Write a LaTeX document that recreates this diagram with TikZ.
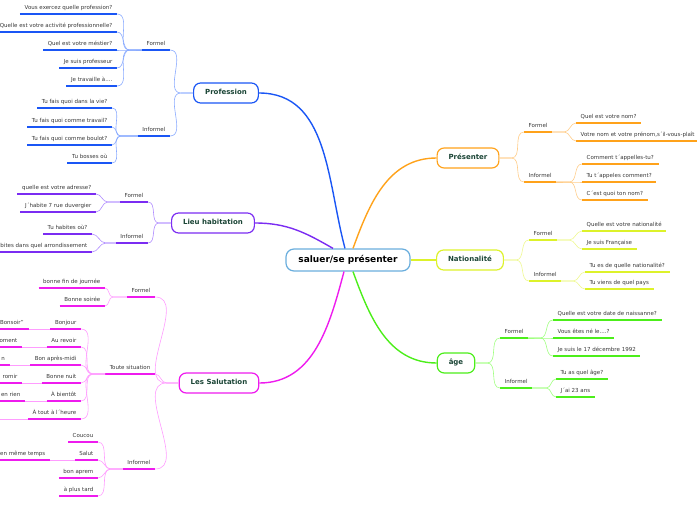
\documentclass[tikz,border=0pt]{standalone}
\usepackage{fontspec}
\setmainfont{DejaVu Sans}
\definecolor{profD}{HTML}{1A56F5}
\definecolor{profL}{HTML}{8AABFF}
\definecolor{lieuD}{HTML}{7B2CF2}
\definecolor{lieuL}{HTML}{B08CFF}
\definecolor{saluD}{HTML}{EE1BEE}
\definecolor{saluL}{HTML}{FF9CFF}
\definecolor{presD}{HTML}{FFA21A}
\definecolor{presL}{HTML}{FFCC88}
\definecolor{natD}{HTML}{DDF22A}
\definecolor{natL}{HTML}{EEF890}
\definecolor{ageD}{HTML}{4CEE1A}
\definecolor{ageL}{HTML}{A0FF80}
\definecolor{ctrB}{HTML}{6AAEDD}
\definecolor{topictxt}{HTML}{1B4536}
\definecolor{leaftxt}{HTML}{383838}

\begin{document}
\begin{tikzpicture}[x=1pt, y=1pt,
  every node/.style={font=\fontsize{5.5}{6.5}\selectfont, text=leaftxt},
  topic/.style={draw=#1, line width=1.2pt, rounded corners=7pt, fill=white,
    minimum height=20pt, inner xsep=11.5pt, text height=5.2pt, text depth=1.5pt,
    font=\bfseries\fontsize{7}{8}\selectfont, text=topictxt},
  leaf/.style={inner xsep=4.5pt, inner ysep=2.7pt, text height=4.2pt, text depth=1.3pt,
    append after command={(\tikzlastnode.south west) edge[draw=#1, line width=1.1pt] (\tikzlastnode.south east)}},
  twig/.style={draw=#1, line width=0.6pt},
  trunk/.style={draw=#1, line width=1.4pt}]
  \useasboundingbox (0,0) rectangle (697,-520);
  \clip (0,0) rectangle (697,-520);
  % Centre
  \node[draw=ctrB, line width=1.2pt, rounded corners=8pt, fill=white, minimum height=22pt,
    inner xsep=12.5pt, font=\bfseries\fontsize{9}{10}\selectfont, text=black] (root) at (348,-260) {saluer/se présenter};
  % Profession
  \node[topic=profD] (prof) at (226,-93) {Profession};
  \node[leaf=profD, anchor=south east] (pf) at (170,-50) {Formel};
  \node[leaf=profD, anchor=south east] (pi) at (170,-136) {Informel};
  \node[leaf=profD, anchor=south east] (pf1) at (117,-14) {Vous exercez quelle profession?};
  \node[leaf=profD, anchor=south east] (pf2) at (117,-32) {Quelle est votre activité professionnelle?};
  \node[leaf=profD, anchor=south east] (pf3) at (117,-50) {Quel est votre méstier?};
  \node[leaf=profD, anchor=south east] (pf4) at (117,-68) {Je suis professeur};
  \node[leaf=profD, anchor=south east] (pf5) at (117,-86) {Je travaille à....};
  \node[leaf=profD, anchor=south east] (pi1) at (112,-108) {Tu fais quoi dans la vie?};
  \node[leaf=profD, anchor=south east] (pi2) at (112,-127) {Tu fais quoi comme travail?};
  \node[leaf=profD, anchor=south east] (pi3) at (112,-145) {Tu fais quoi comme boulot?};
  \node[leaf=profD, anchor=south east] (pi4) at (112,-163) {Tu bosses où};
  \foreach \n in {pf,pi} \draw[twig=profL] (\n.south east) to[out=0,in=180] ([xshift=-12pt]prof.west) -- (prof.west);
  \foreach \n in {pf1,pf2,pf3,pf4,pf5} \draw[twig=profL] (\n.south east) to[out=0,in=180] ([xshift=-12pt]pf.south west) -- (pf.south west);
  \foreach \n in {pi1,pi2,pi3,pi4} \draw[twig=profL] (\n.south east) to[out=0,in=180] ([xshift=-17pt]pi.south west) -- (pi.south west);
  % Lieu habitation
  \node[topic=lieuD] (lieu) at (213,-223) {Lieu habitation};
  \node[leaf=lieuD, anchor=south east] (lf) at (148,-202) {Formel};
  \node[leaf=lieuD, anchor=south east] (li) at (148,-243) {Informel};
  \node[leaf=lieuD, anchor=south east] (lf1) at (96,-194) {quelle est votre adresse?};
  \node[leaf=lieuD, anchor=south east] (lf2) at (96,-212) {J´habite 7 rue duvergier};
  \node[leaf=lieuD, anchor=south east] (li1) at (92,-234) {Tu habites où?};
  \node[leaf=lieuD, anchor=south east] (li2) at (92,-252) {bites dans quel arrondissement};
  \foreach \n in {lf,li} \draw[twig=lieuL] (\n.south east) to[out=0,in=180] ([xshift=-12pt]lieu.west) -- (lieu.west);
  \foreach \n in {lf1,lf2} \draw[twig=lieuL] (\n.south east) to[out=0,in=180] ([xshift=-12pt]lf.south west) -- (lf.south west);
  \foreach \n in {li1,li2} \draw[twig=lieuL] (\n.south east) to[out=0,in=180] ([xshift=-10pt]li.south west) -- (li.south west);
  % Les Salutation
  \node[topic=saluD] (salu) at (219,-383) {Les Salutation};
  \node[leaf=saluD, anchor=south east] (sf) at (155,-297) {Formel};
  \node[leaf=saluD, anchor=south east] (st) at (155,-374) {Toute situation};
  \node[leaf=saluD, anchor=south east] (si) at (155,-469) {Informel};
  \node[leaf=saluD, anchor=south east] (sf1) at (105,-288) {bonne fin de journée};
  \node[leaf=saluD, anchor=south east] (sf2) at (105,-306) {Bonne soirée};
  \node[leaf=saluD, anchor=south east] (st1) at (81,-329) {Bonjour};
  \node[leaf=saluD, anchor=south east] (st2) at (81,-347) {Au revoir};
  \node[leaf=saluD, anchor=south east] (st3) at (81,-365) {Bon après-midi};
  \node[leaf=saluD, anchor=south east] (st4) at (81,-383) {Bonne nuit};
  \node[leaf=saluD, anchor=south east] (st5) at (81,-401) {À bientôt};
  \node[leaf=saluD, anchor=south east] (st6) at (81,-419) {À tout à l´heure};
  \node[leaf=saluD, anchor=south east] (sg1) at (28.5,-329) {Bonsoir"};
  \node[leaf=saluD, anchor=south east] (sg2) at (22,-347) {oment};
  \node[leaf=saluD, anchor=south east] (sg3) at (9.5,-365) {n};
  \node[leaf=saluD, anchor=south east] (sg4) at (22,-383) {romir};
  \node[leaf=saluD, anchor=south east] (sg5) at (25,-401) {en rien};
  \coordinate (sg6) at (0,-419);
  \node[leaf=saluD, anchor=south east] (si1) at (98,-442) {Coucou};
  \node[leaf=saluD, anchor=south east] (si2) at (98,-460) {Salut};
  \node[leaf=saluD, anchor=south east] (si3) at (98,-478) {bon aprem};
  \node[leaf=saluD, anchor=south east] (si4) at (98,-496) {à plus tard};
  \node[leaf=saluD, anchor=south east] (sig) at (50,-460) {en même temps};
  \foreach \n in {sf,st,si} \draw[twig=saluL] (\n.south east) to[out=0,in=180] ([xshift=-12pt]salu.west) -- (salu.west);
  \foreach \n in {sf1,sf2} \draw[twig=saluL] (\n.south east) to[out=0,in=180] ([xshift=-14pt]sf.south west) -- (sf.south west);
  \foreach \n in {st1,st2,st3,st4,st5,st6} \draw[twig=saluL] (\n.south east) to[out=0,in=180] ([xshift=-12pt]st.south west) -- (st.south west);
  \foreach \n in {si1,si2,si3,si4} \draw[twig=saluL] (\n.south east) to[out=0,in=180] ([xshift=-12pt]si.south west) -- (si.south west);
  \foreach \a/\b in {sg1/st1,sg2/st2,sg3/st3,sg4/st4,sg5/st5,sig/si2} \draw[twig=saluL] (\a.south east) -- (\b.south west);
  \draw[twig=saluL] (sg6) -- (st6.south west);
  % Présenter
  \node[topic=presD] (pres) at (468,-158) {Présenter};
  \node[leaf=presD, anchor=south west] (rf) at (524,-132) {Formel};
  \node[leaf=presD, anchor=south west] (ri) at (524,-182) {Informel};
  \node[leaf=presD, anchor=south west] (rf1) at (576,-123) {Quel est votre nom?};
  \node[leaf=presD, anchor=south west] (rf2) at (576,-141) {Votre nom et votre prénom,s´il-vous-plaît};
  \node[leaf=presD, anchor=south west] (ri1) at (582,-164) {Comment t´appelles-tu?};
  \node[leaf=presD, anchor=south west] (ri2) at (582,-182) {Tu t´appeles comment?};
  \node[leaf=presD, anchor=south west] (ri3) at (582,-200) {C´est quoi ton nom?};
  \foreach \n in {rf,ri} \draw[twig=presL] (pres.east) -- ([xshift=12pt]pres.east) to[out=0,in=180] (\n.south west);
  \foreach \n in {rf1,rf2} \draw[twig=presL] (rf.south east) -- ([xshift=12pt]rf.south east) to[out=0,in=180] (\n.south west);
  \foreach \n in {ri1,ri2,ri3} \draw[twig=presL] (ri.south east) -- ([xshift=13pt]ri.south east) to[out=0,in=180] (\n.south west);
  % Nationalité
  \node[topic=natD] (nat) at (470,-260) {Nationalité};
  \node[leaf=natD, anchor=south west] (nf) at (529,-240) {Formel};
  \node[leaf=natD, anchor=south west] (ni) at (529,-281) {Informel};
  \node[leaf=natD, anchor=south west] (nf1) at (582,-231) {Quelle est votre nationalité};
  \node[leaf=natD, anchor=south west] (nf2) at (582,-249) {Je suis Française};
  \node[leaf=natD, anchor=south west] (ni1) at (585,-272) {Tu es de quelle nationalité?};
  \node[leaf=natD, anchor=south west] (ni2) at (585,-289) {Tu viens de quel pays};
  \foreach \n in {nf,ni} \draw[twig=natL] (nat.east) -- ([xshift=12pt]nat.east) to[out=0,in=180] (\n.south west);
  \foreach \n in {nf1,nf2} \draw[twig=natL] (nf.south east) -- ([xshift=12pt]nf.south east) to[out=0,in=180] (\n.south west);
  \foreach \n in {ni1,ni2} \draw[twig=natL] (ni.south east) -- ([xshift=12pt]ni.south east) to[out=0,in=180] (\n.south west);
  % âge
  \node[topic=ageD] (age) at (456,-363) {âge};
  \node[leaf=ageD, anchor=south west] (af) at (500,-338) {Formel};
  \node[leaf=ageD, anchor=south west] (ai) at (500,-388) {Informel};
  \node[leaf=ageD, anchor=south west] (af1) at (553,-320) {Quelle est votre date de naissanne?};
  \node[leaf=ageD, anchor=south west] (af2) at (553,-338) {Vous êtes né le....?};
  \node[leaf=ageD, anchor=south west] (af3) at (553,-356) {Je suis le 17 décembre 1992};
  \node[leaf=ageD, anchor=south west] (ai1) at (556,-379) {Tu as quel âge?};
  \node[leaf=ageD, anchor=south west] (ai2) at (556,-397) {J´ai 23 ans};
  \foreach \n in {af,ai} \draw[twig=ageL] (age.east) -- ([xshift=12pt]age.east) to[out=0,in=180] (\n.south west);
  \foreach \n in {af1,af2,af3} \draw[twig=ageL] (af.south east) -- ([xshift=12pt]af.south east) to[out=0,in=180] (\n.south west);
  \foreach \n in {ai1,ai2} \draw[twig=ageL] (ai.south east) -- ([xshift=14pt]ai.south east) to[out=0,in=180] (\n.south west);
  % Main branches
  \draw[trunk=profD] ([xshift=-3pt]root.north) to[out=105,in=0] (prof.east);
  \draw[trunk=lieuD] ([xshift=-15pt]root.north) to[out=150,in=0] (lieu.east);
  \draw[trunk=saluD] ([xshift=-4pt]root.south) to[out=-105,in=0] (salu.east);
  \draw[trunk=presD] ([xshift=5pt]root.north) to[out=70,in=180] (pres.west);
  \draw[trunk=natD] (root.east) -- (nat.west);
  \draw[trunk=ageD] ([xshift=5pt]root.south) to[out=-70,in=180] (age.west);
\end{tikzpicture}
\end{document}
